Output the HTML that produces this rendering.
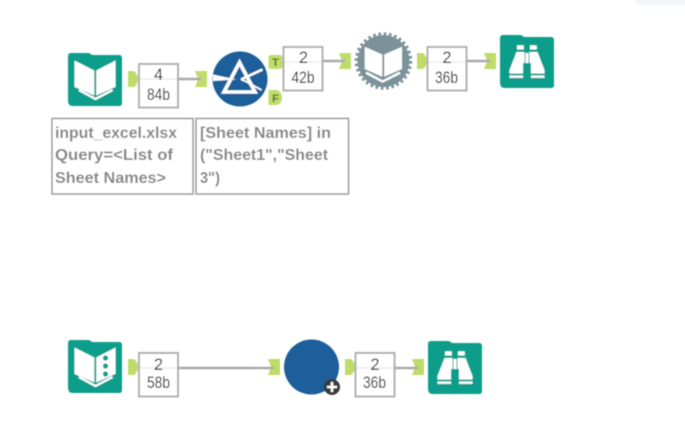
<!DOCTYPE html>
<html><head><meta charset="utf-8"><style>
html,body{margin:0;padding:0;background:#fff}
svg{display:block}
text{font-family:"Liberation Sans",sans-serif}
.n{font-size:17px;fill:#222}
.l{font-size:16px;font-weight:bold;fill:#858585}
.w{stroke:#aaa;stroke-width:2.500;fill:none}
</style></head><body>
<svg width="685" height="425" viewBox="0 0 685 425" xmlns="http://www.w3.org/2000/svg">
<defs>
<filter id="b" x="-5%" y="-5%" width="110%" height="110%"><feGaussianBlur stdDeviation="0.45"/></filter>
<g id="folder"><path d="M3 1H20Q22 1 24 3H51Q54 3 54 6V51Q54 54 51 54H5Q0 54 0 49V4Q0 1 3 1Z" fill="#0a9e8b"/></g>
<g id="book" fill="none" stroke="#fff">
<path d="M26.300 18.500L6.500 8.500V35L26.300 43.500Z" fill="#fff" stroke="none"/>
<path d="M28.200 18.500L47.500 8.500V35L28.200 43.500Z" fill="#fff" stroke="none"/>
<path d="M11 38L27.500 47L44.500 38" stroke-width="2.300"/>
</g>
<g id="bino" fill="#fff">
<rect x="17" y="11.300" width="6.800" height="4.200"/><rect x="30" y="11.300" width="6.800" height="4.200"/>
<path d="M16.500 18H24.500V29H23V39.500H9.500V36Z"/>
<path d="M37.500 18H29.500V29H31V39.500H44.500V36Z"/>
<rect x="25.500" y="19" width="3" height="10"/>
<rect x="9.500" y="41.500" width="13.500" height="2.400"/><rect x="31" y="41.500" width="13.500" height="2.400"/>
</g>
<g id="ao"><path d="M0 0H6Q10 3 10 8Q10 13 6 16H0Z" fill="#bfdc6a"/></g>
<g id="ai"><path d="M0 0H12V16H0L3 8Z" fill="#bfdc6a"/></g>
<g id="cnt"><rect x="1" y="1" width="39" height="43.500" fill="#fff" stroke="#b0b0b0" stroke-width="2"/><line x1="2" y1="16" x2="39" y2="16" stroke="#e2e2e2"/></g>
</defs>

<path d="M635 0H685V5H638Z" fill="#f4f5f9"/>

<g filter="url(#b)">
<!-- input book -->
<use href="#folder" x="68" y="52"/>
<use href="#book" x="68" y="52"/>
<use href="#ao" x="128" y="71"/>
<use href="#cnt" x="138" y="63"/>
<text class="n" x="154" y="80" textLength="9" lengthAdjust="spacingAndGlyphs">4</text>
<text class="n" x="147" y="100" textLength="23" lengthAdjust="spacingAndGlyphs">84b</text>

<!-- filter -->
<use href="#ai" x="195" y="71"/>
<circle cx="240" cy="79" r="27.500" fill="#1a5e9a"/>
<path d="M239.500 62.500L255 92H224Z" fill="none" stroke="#fff" stroke-width="3.600"/>
<path d="M213 74.500L236.500 79.500L213 81Z" fill="#fff"/>
<path d="M241 79.500L262.500 69.500" stroke="#fff" stroke-width="2.400"/>
<path d="M241 79.500L246 81.500L261.500 90" stroke="#fff" stroke-width="1.600" fill="none"/>

<path d="M271 55H279Q282.500 55 282.500 58V66Q282.500 69 279 69H271Q268.500 69 268.500 66V58Q268.500 55 271 55Z" fill="#c0dc6a"/>
<path d="M268.500 90H276Q282 91 282 97.500Q282 104 276 105H268.500Z" fill="#c0dc6a"/>
<use href="#cnt" x="282.500" y="46"/>
<text x="275.500" y="66" font-size="11" font-weight="bold" fill="#5c6b3a" text-anchor="middle">T</text>
<text x="275.500" y="102" font-size="11" font-weight="bold" fill="#5c6b3a" text-anchor="middle">F</text>
<text class="n" x="299" y="63" textLength="9" lengthAdjust="spacingAndGlyphs">2</text>
<text class="n" x="291.500" y="83" textLength="23" lengthAdjust="spacingAndGlyphs">42b</text>

<!-- gear book -->
<use href="#ai" x="339" y="53"/>
<circle cx="383.500" cy="61" r="26" fill="#7c929b"/>
<circle cx="383.500" cy="61" r="27" fill="none" stroke="#7c929b" stroke-width="3.500" stroke-dasharray="2.600 2.700"/>
<path d="M382.300 54.500L364.700 46.700V69L382.300 76.700Z M384.200 54.500L402 46.700V69L384.200 76.700Z" fill="#fff"/>
<path d="M366 72.700L382.700 81.500L400 72.700" stroke="#fff" stroke-width="2.300" fill="none"/>
<use href="#ao" x="417" y="53"/>
<use href="#cnt" x="426.500" y="46"/>
<text class="n" x="442.500" y="63" textLength="9" lengthAdjust="spacingAndGlyphs">2</text>
<text class="n" x="435" y="83" textLength="23" lengthAdjust="spacingAndGlyphs">36b</text>

<!-- browse top -->
<use href="#ai" x="484" y="53"/>
<use href="#folder" x="500" y="34"/>
<use href="#bino" x="500" y="34"/>

<!-- annotations -->
<rect x="52" y="118.500" width="141" height="75.500" fill="#fff" stroke="#a0a0a0" stroke-width="1.600"/>
<rect x="196" y="118.500" width="152.500" height="75.500" fill="#fff" stroke="#a0a0a0" stroke-width="1.600"/>
<text class="l" x="55" y="138" textLength="122" lengthAdjust="spacingAndGlyphs">input_excel.xlsx</text>
<text class="l" x="55" y="160" textLength="118" lengthAdjust="spacingAndGlyphs">Query=&lt;List of</text>
<text class="l" x="55" y="183" textLength="111" lengthAdjust="spacingAndGlyphs">Sheet Names&gt;</text>
<text class="l" x="200" y="138" textLength="131" lengthAdjust="spacingAndGlyphs">[Sheet Names] in</text>
<text class="l" x="200" y="160" textLength="128" lengthAdjust="spacingAndGlyphs">("Sheet1","Sheet</text>
<text class="l" x="200" y="183" textLength="20" lengthAdjust="spacingAndGlyphs">3")</text>

<!-- bottom row -->
<use href="#folder" x="68" y="339"/>
<path d="M94.300 357.500L74.500 347.500V374L94.300 382.500Z M96.200 357.500L115.500 347.500V374L96.200 382.500Z" fill="#fff"/>
<circle cx="105.500" cy="358" r="2.600" fill="#0a9e8b"/>
<circle cx="105.500" cy="366" r="2.600" fill="#0a9e8b"/>
<circle cx="105.500" cy="374" r="2.600" fill="#0a9e8b"/>
<path d="M79 377L95.500 386L112.500 377" stroke="#fff" stroke-width="2.300" fill="none"/>
<use href="#ao" x="128" y="359"/>
<use href="#cnt" x="138" y="352"/>
<text class="n" x="154" y="370" textLength="9" lengthAdjust="spacingAndGlyphs">2</text>
<text class="n" x="147" y="388" textLength="23" lengthAdjust="spacingAndGlyphs">58b</text>

<use href="#ai" x="268" y="359"/>
<circle cx="311.500" cy="367" r="27.500" fill="#1a5e9a"/>
<circle cx="332" cy="387" r="8" fill="#3a3a3a"/>
<path d="M327 387H337M332 382V392" stroke="#fff" stroke-width="2.600"/>

<use href="#ao" x="345" y="359"/>
<use href="#cnt" x="354.500" y="352"/>
<text class="n" x="370.500" y="370" textLength="9" lengthAdjust="spacingAndGlyphs">2</text>
<text class="n" x="363" y="388" textLength="23" lengthAdjust="spacingAndGlyphs">36b</text>
<use href="#ai" x="412" y="359"/>
<use href="#folder" x="428" y="340"/>
<use href="#bino" x="428" y="340"/>

<!-- wires -->
<line class="w" x1="179" y1="79" x2="201" y2="79"/>
<line class="w" x1="323" y1="61" x2="345" y2="61"/>
<line class="w" x1="467" y1="61" x2="490" y2="61"/>
<line class="w" x1="179" y1="368" x2="274" y2="368"/>
<line class="w" x1="395" y1="368" x2="418" y2="368"/>
</g>
</svg>
</body></html>
